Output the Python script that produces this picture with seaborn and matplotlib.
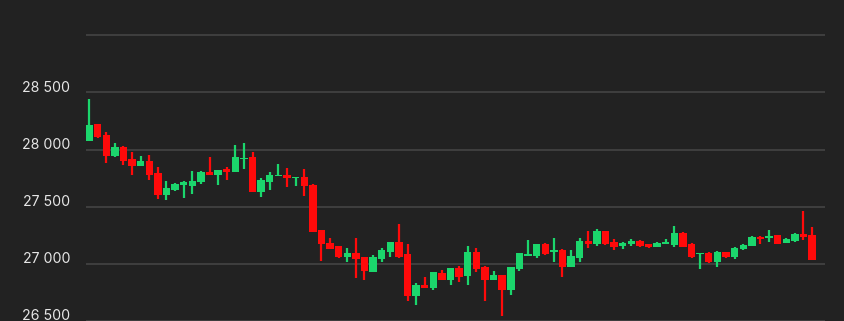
import matplotlib
matplotlib.use("Agg")
import matplotlib.pyplot as plt
import matplotlib.transforms as mtransforms
import seaborn as sns
import pandas as pd
import numpy as np

opens = [28077, 28220, 28126, 27941, 28024, 27917, 27859, 27897, 27796, 27604,
         27642, 27691, 27685, 27715, 27802, 27778, 27830, 27802, 27915, 27932,
         27633, 27720, 27767, 27781, 27750, 27763, 27694, 27300, 27184, 27155,
         27057, 27092, 27063, 26933, 27039, 27106, 27193, 27083, 26720, 26816,
         26787, 26924, 26859, 26961, 26894, 27106, 26976, 26859, 26903, 26772,
         26955, 27072, 27072, 27178, 27100, 27120, 26976, 27048, 27198, 27172,
         27289, 27193, 27155, 27172, 27202, 27170, 27144, 27172, 27163, 27274,
         27172, 27085, 27092, 27019, 27100, 27057, 27129, 27158, 27237, 27222,
         27250, 27184, 27202, 27265, 27256]
highs = [28445, 28225, 28150, 28054, 28030, 27976, 27946, 27952, 27845, 27729,
         27710, 27729, 27810, 27810, 27932, 27822, 27850, 28042, 28054, 27980,
         27750, 27802, 27871, 27842, 27763, 27830, 27700, 27300, 27222, 27155,
         27135, 27228, 27063, 27080, 27135, 27193, 27346, 27178, 26830, 26889,
         26933, 26946, 26961, 26980, 27155, 27135, 26980, 26941, 26905, 26976,
         27091, 27207, 27178, 27180, 27222, 27130, 27120, 27230, 27289, 27303,
         27289, 27215, 27190, 27216, 27210, 27175, 27190, 27215, 27332, 27280,
         27180, 27092, 27100, 27110, 27105, 27150, 27170, 27245, 27240, 27294,
         27255, 27225, 27274, 27459, 27323]
lows = [28077, 28100, 27883, 27935, 27865, 27778, 27855, 27735, 27570, 27555,
        27640, 27578, 27613, 27700, 27775, 27691, 27737, 27800, 27830, 27630,
        27584, 27642, 27765, 27671, 27685, 27598, 27278, 27024, 27129, 27050,
        27019, 26880, 26859, 26925, 27019, 27063, 27048, 26671, 26642, 26793,
        26772, 26859, 26816, 26845, 26816, 26933, 26676, 26859, 26541, 26729,
        26937, 27072, 27054, 27076, 27019, 26882, 26976, 27019, 27141, 27158,
        27165, 27120, 27129, 27160, 27150, 27135, 27144, 27172, 27150, 27145,
        27048, 26955, 27010, 26970, 27050, 27042, 27125, 27155, 27178, 27193,
        27172, 27180, 27193, 27207, 27033]
closes = [28213, 28106, 27941, 28024, 27897, 27854, 27897, 27778, 27604, 27663,
          27700, 27715, 27729, 27802, 27778, 27822, 27802, 27932, 27926, 27633,
          27737, 27778, 27778, 27750, 27763, 27680, 27280, 27170, 27129, 27057,
          27092, 27042, 26937, 27057, 27120, 27193, 27063, 26720, 26816, 26793,
          26933, 26859, 26961, 26889, 27106, 26955, 26859, 26903, 26772, 26976,
          27091, 27083, 27178, 27083, 27120, 26976, 27072, 27202, 27170, 27289,
          27172, 27150, 27184, 27202, 27155, 27150, 27184, 27193, 27274, 27150,
          27057, 27092, 27019, 27100, 27057, 27141, 27163, 27237, 27216, 27245,
          27178, 27216, 27265, 27237, 27033]
ytick_values = [26500, 27000, 27500, 28000, 28500, 29000]
ytick_labels = ["26 500", "27 000", "27 500", "28 000", "28 500", ""]

BG = "#222222"
UP = "#1bd66c"
DOWN = "#ff0a0a"
GRID = "#444444"
TXT = "#e6e6e6"

df = pd.DataFrame({"open": opens, "high": highs, "low": lows, "close": closes})
df["idx"] = np.arange(len(df))
df["up"] = df["close"] >= df["open"]
df["bottom"] = df[["open", "close"]].min(axis=1)
df["height"] = (df["close"] - df["open"]).abs().clip(lower=10)

sns.set_theme(style="dark", rc={"axes.facecolor": BG, "figure.facecolor": BG})
plt.rcParams["font.family"] = ["Inter", "DejaVu Sans"]

fig = plt.figure(figsize=(8.45, 3.21), dpi=100)
ax = fig.add_axes([86 / 845, 0, (825 - 86) / 845, 1])
ax.set_facecolor(BG)

colors = np.where(df["up"], UP, DOWN)
ax.vlines(df["idx"], df["low"], df["high"], colors=colors, linewidth=1.6, zorder=2)
ax.bar(df["idx"], df["height"], bottom=df["bottom"], width=0.86,
       color=colors, edgecolor="none", zorder=3)

ax.set_xlim(-0.35, len(df) - 1 + 1.5)
ax.set_ylim(26517, 29309)
ax.set_yticks(ytick_values)
ax.set_yticklabels([])
ax.tick_params(axis="both", length=0)
ax.set_xticks([])
ax.yaxis.grid(True, color=GRID, linewidth=1.2)
ax.xaxis.grid(False)
for s in ax.spines.values():
    s.set_visible(False)

offset = mtransforms.ScaledTranslation(0, -2.5 / 100, fig.dpi_scale_trans)
trans = mtransforms.blended_transform_factory(fig.transFigure, ax.transData) + offset
for v, lab in zip(ytick_values, ytick_labels):
    if lab:
        fig.text(70.5 / 845, v, lab, transform=trans, ha="right", va="bottom",
                 color=TXT, fontsize=10.2, clip_on=False)

fig.savefig("out.png", dpi=100, facecolor=BG)
